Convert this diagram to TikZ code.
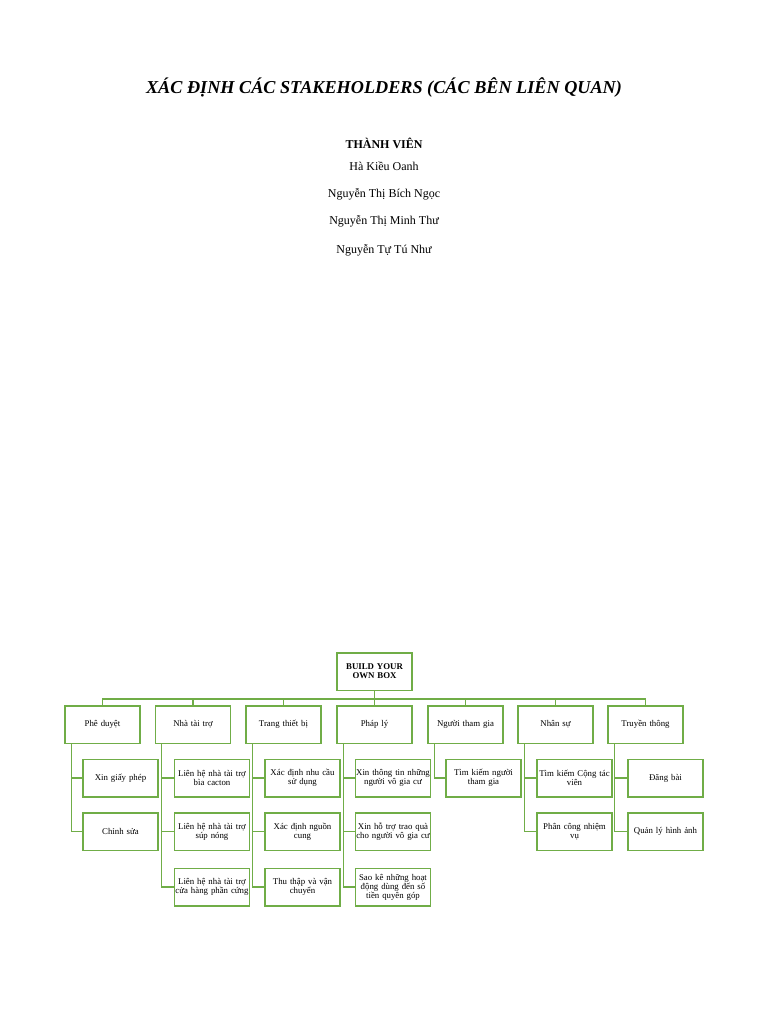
\documentclass[tikz,border=0pt]{standalone}
\usepackage{fontspec}
\setmainfont{Liberation Serif}
\definecolor{ogreen}{HTML}{70AD47}
\begin{document}
\begin{tikzpicture}[x=1pt,y=-1pt,
  box/.style={draw=ogreen,line width=1.5pt,minimum width=75pt,minimum height=37.5pt,
    text width=74pt,inner sep=0.5pt,align=center,font=\fontsize{8.8}{9}\selectfont},
  link/.style={draw=ogreen,line width=1.4pt}]
\useasboundingbox[fill=white] (0,0) rectangle (768,1024);
\node (title) at (384,88) {\fontsize{18.2}{20}\selectfont\bfseries\itshape XÁC ĐỊNH CÁC STAKEHOLDERS (CÁC BÊN LIÊN QUAN)};
\node (tv) at (384,143) {\fontsize{12}{13}\selectfont\bfseries THÀNH VIÊN};
\node (n1) at (384,166) {\fontsize{12}{13}\selectfont Hà Kiều Oanh};
\node (n2) at (384,194) {\fontsize{12}{13}\selectfont Nguyễn Thị Bích Ngọc};
\node (n3) at (384,221) {\fontsize{12}{13}\selectfont Nguyễn Thị Minh Thư};
\node (n4) at (384,250) {\fontsize{12}{13}\selectfont Nguyễn Tự Tú Như};

\node[box,font=\fontsize{8.8}{9}\selectfont\bfseries] (root) at (374.5,671.5) {BUILD YOUR\\OWN BOX};

\node[box] (p1) at (102.5,724.5) {Phê duyệt};
\node[box] (p2) at (193,724.5) {Nhà tài trợ};
\node[box] (p3) at (283.5,724.5) {Trang thiết bị};
\node[box] (p4) at (374.5,724.5) {Pháp lý};
\node[box] (p5) at (465.5,724.5) {Người tham gia};
\node[box] (p6) at (555.5,724.5) {Nhân sự};
\node[box] (p7) at (645.5,724.5) {Truyền thông};

\foreach \p in {p1,p2,p3,p4,p5,p6,p7}
  \draw[link] (root.south) -- ++(0,8) -| (\p.north);

\node[box] (c11) at (120.5,778) {Xin giấy phép};
\node[box] (c12) at (120.5,831.5) {Chỉnh sửa};
\node[box] (c21) at (212,778) {Liên hệ nhà tài trợ\\bìa cacton};
\node[box] (c22) at (212,831.5) {Liên hệ nhà tài trợ\\súp nóng};
\node[box] (c23) at (212,887) {Liên hệ nhà tài trợ\\cửa hàng phần cứng};
\node[box] (c31) at (302.5,778) {Xác định nhu cầu\\sử dụng};
\node[box] (c32) at (302.5,831.5) {Xác định nguồn\\cung};
\node[box] (c33) at (302.5,887) {Thu thập và vận\\chuyển};
\node[box] (c41) at (393,778) {Xin thông tin những\\người vô gia cư};
\node[box] (c42) at (393,831.5) {Xin hỗ trợ trao quà\\cho người vô gia cư};
\node[box] (c43) at (393,887) {Sao kê những hoạt\\động dùng đến số\\tiền quyên góp};
\node[box] (c51) at (483.5,778) {Tìm kiếm người\\tham gia};
\node[box] (c61) at (574.5,778) {Tìm kiếm Cộng tác\\viên};
\node[box] (c62) at (574.5,831.5) {Phân công nhiệm\\vụ};
\node[box] (c71) at (665.5,778) {Đăng bài};
\node[box] (c72) at (665.5,831.5) {Quản lý hình ảnh};

\foreach \p/\c in {p1/c11,p1/c12,p2/c21,p2/c22,p2/c23,p3/c31,p3/c32,p3/c33,
                   p4/c41,p4/c42,p4/c43,p5/c51,p6/c61,p6/c62,p7/c71,p7/c72}
  \draw[link] ([xshift=7pt]\p.south west) |- (\c.west);
\end{tikzpicture}
\end{document}
